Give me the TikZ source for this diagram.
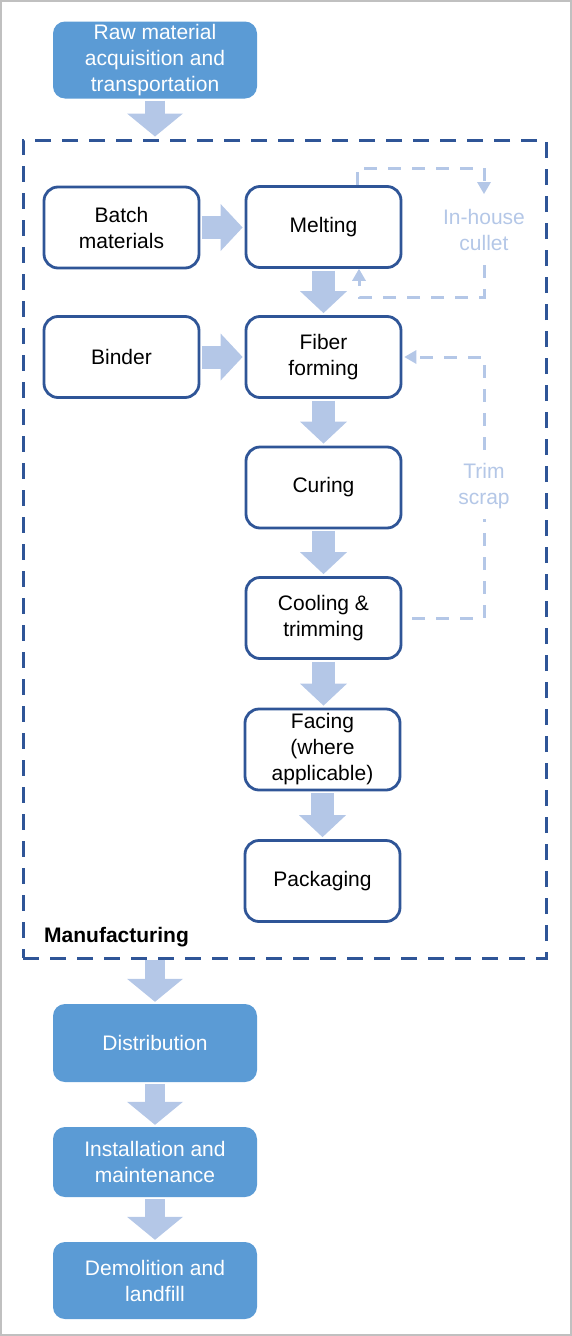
\documentclass[tikz,border=0pt]{standalone}
\usepackage{fontspec}
\setmainfont{Liberation Sans}
\usetikzlibrary{arrows.meta,calc}
\definecolor{boxblue}{HTML}{5B9BD5}
\definecolor{darkblue}{HTML}{2F5597}
\definecolor{lightblue}{HTML}{B4C7E7}
\definecolor{framegray}{HTML}{C0C0C0}
\begin{document}
\begin{tikzpicture}[x=1pt,y=-1pt,
  txt/.style={font=\fontsize{21pt}{26pt}\selectfont, align=center},
  lcbox/.style={txt, fill=boxblue, text=white, rounded corners=12pt, minimum width=204pt, inner sep=0pt},
  procbox/.style={txt, draw=darkblue, line width=2.8pt, fill=white, text=black, rounded corners=14pt, minimum width=155pt, minimum height=81pt, inner sep=0pt},
  bigarrow/.style={draw=lightblue, line width=20pt, -{Triangle[length=23pt,width=56pt,line width=0pt]}, shorten <=2pt, shorten >=2pt},
  smallarrow/.style={draw=lightblue, line width=23pt, -{Triangle[length=22pt,width=47pt,line width=0pt]}, shorten <=2pt, shorten >=2pt},
  loopline/.style={draw=lightblue, line width=3pt, dash pattern=on 13pt off 11pt},
  looptip/.style={-{Triangle[length=12pt,width=14pt,line width=0pt]}},
  looptext/.style={txt, text=lightblue, inner sep=10pt}
]
\useasboundingbox (0,0) rectangle (572,1336);
\draw[framegray, line width=2pt] (1,1) rectangle (571,1335);

% life-cycle boxes
\node[lcbox, minimum height=77pt] (raw) at (155,60) {Raw material\\acquisition and\\transportation};
\node[lcbox, minimum height=78pt] (dist) at (155,1043) {Distribution};
\node[lcbox, minimum height=70pt] (inst) at (155,1162) {Installation and\\maintenance};
\node[lcbox, minimum height=77pt] (demo) at (155,1280.5) {Demolition and\\landfill};

% manufacturing frame
\node[draw=darkblue, line width=3pt, dash pattern=on 16pt off 11pt, minimum width=523pt, minimum height=818pt, inner sep=0pt] (mfg) at (284.5,549) {};
\node[font=\fontsize{21pt}{26pt}\selectfont\bfseries, anchor=base west, inner sep=0pt] (mfglabel) at (44,942) {Manufacturing};

% process boxes
\node[procbox] (batch) at (121.5,227.5) {Batch\\materials};
\node[procbox] (melt) at (323.5,227) {Melting};
\node[procbox] (binder) at (121.5,357) {Binder};
\node[procbox] (fiber) at (323.5,357) {Fiber\\forming};
\node[procbox] (curing) at (323.5,487.5) {Curing};
\node[procbox] (cool) at (323.5,618) {Cooling \&\\trimming};
\node[procbox] (facing) at (322.5,749.5) {Facing\\(where\\applicable)};
\node[procbox] (pack) at (322.5,881) {Packaging};

% block arrows
\draw[bigarrow] (raw.south) -- (raw.south |- mfg.north);
\draw[bigarrow, shorten <=0pt] (mfg.south -| dist.north) -- (dist.north);
\draw[bigarrow] (dist.south) -- (inst.north);
\draw[bigarrow] (inst.south) -- (demo.north);

\draw[smallarrow] (batch.east) -- (batch.east -| melt.west);
\draw[smallarrow] (binder.east) -- (binder.east -| fiber.west);
\draw[smallarrow] (melt.south) -- (fiber.north);
\draw[smallarrow] (fiber.south) -- (curing.north);
\draw[smallarrow] (curing.south) -- (cool.north);
\draw[smallarrow] (cool.south) -- (cool.south |- facing.north);
\draw[smallarrow] (facing.south) -- (pack.north);

% in-house cullet loop
\node[looptext] (cullet) at (484,229.5) {In-house\\cullet};
\coordinate (cullettop) at (484,168);
\coordinate (culletin) at (484,194);
\coordinate (culletout) at (484,265);
\coordinate (culletbot) at (484,297);
\draw[loopline, looptip] ([xshift=34pt]melt.north) |- (cullettop) -- (culletin);
\draw[loopline, looptip] (culletout) -- (culletbot) -| ([xshift=35.5pt]melt.south);

% trim scrap loop
\coordinate (trimcorner) at (484,357);
\draw[loopline, looptip] ([xshift=10pt]cool.east) -| (trimcorner) -- ([xshift=2pt]fiber.east);
\node[looptext, fill=white] (trim) at (484,486) {Trim\\scrap};
\end{tikzpicture}
\end{document}
